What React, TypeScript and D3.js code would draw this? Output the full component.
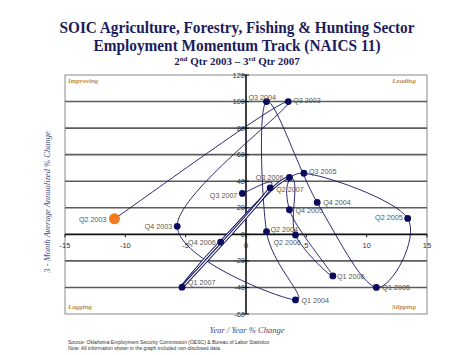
import React from "react";
import * as d3 from "d3";

const quarters = [
  "Q2 2003", "Q3 2003", "Q4 2003", "Q1 2004", "Q2 2004", "Q3 2004", "Q4 2004",
  "Q1 2005", "Q2 2005", "Q3 2005", "Q4 2005", "Q1 2006", "Q2 2006", "Q3 2006",
  "Q4 2006", "Q1 2007", "Q2 2007", "Q3 2007",
];
const yoyChange = [
  -10.9, 3.5, -5.7, 4.1, 1.7, 1.7, 5.9, 10.8, 13.4, 4.8, 3.6, 7.2, 4.1, 3.6,
  -2.1, -5.3, 2.0, -0.3,
];
const momentum = [
  11.7, 100, 6, -49.4, 2, 100, 24, -40, 12, 46, 18.5, -31.3, -0.5, 42.8, -5.8,
  -39.8, 35, 30.8,
];
const xTicks = [-15, -10, -5, 0, 5, 10, 15];
const yTicks = [-60, -40, -20, 0, 20, 40, 60, 80, 100, 120];

// label placement (layout only)
const labelPos: Record<string, { dx: number; dy: number; anchor: string }> = {
  "Q2 2003": { dx: -8, dy: 3, anchor: "end" },
  "Q3 2003": { dx: 5, dy: 1, anchor: "start" },
  "Q4 2003": { dx: -5, dy: 3, anchor: "end" },
  "Q1 2004": { dx: 6, dy: 3, anchor: "start" },
  "Q2 2004": { dx: 4, dy: 0, anchor: "start" },
  "Q3 2004": { dx: -18, dy: -2, anchor: "start" },
  "Q4 2004": { dx: 6, dy: 3, anchor: "start" },
  "Q1 2005": { dx: 6, dy: 3, anchor: "start" },
  "Q2 2005": { dx: -5, dy: 2, anchor: "end" },
  "Q3 2005": { dx: 5, dy: 1, anchor: "start" },
  "Q4 2005": { dx: 6, dy: 3, anchor: "start" },
  "Q1 2006": { dx: 4, dy: 3, anchor: "start" },
  "Q2 2006": { dx: -22, dy: 10, anchor: "start" },
  "Q3 2006": { dx: -6, dy: 2, anchor: "end" },
  "Q4 2006": { dx: -5, dy: 3, anchor: "end" },
  "Q1 2007": { dx: 6, dy: -2, anchor: "start" },
  "Q2 2007": { dx: 6, dy: 4, anchor: "start" },
  "Q3 2007": { dx: -5, dy: 5, anchor: "end" },
};

const W = 474;
const H = 355;
const NAVY = "#14145e";

export default function App() {
  const x = d3.scaleLinear().domain([-15, 15]).range([65, 427]);
  const y = d3.scaleLinear().domain([-60, 120]).range([314, 75]);

  const pts = quarters.map((q, i) => ({ q, px: x(yoyChange[i]), py: y(momentum[i]) }));

  // Catmull-Rom style smoothed segments (Excel-like smoothing)
  const segs: { d: string; dbl: boolean }[] = [];
  for (let i = 0; i < pts.length - 1; i++) {
    const p0 = pts[Math.max(0, i - 1)];
    const p1 = pts[i];
    const p2 = pts[i + 1];
    const p3 = pts[Math.min(pts.length - 1, i + 2)];
    const path = d3.path();
    path.moveTo(p1.px, p1.py);
    path.bezierCurveTo(
      p1.px + (p2.px - p0.px) / 6,
      p1.py + (p2.py - p0.py) / 6,
      p2.px - (p3.px - p1.px) / 6,
      p2.py - (p3.py - p1.py) / 6,
      p2.px,
      p2.py
    );
    segs.push({ d: path.toString(), dbl: i >= 13 && i <= 15 });
  }

  const x0 = x(0);
  const y0 = y(0);

  return (
    <svg
      width={W}
      height={H}
      style={{ position: "absolute", left: 0, top: 0, background: "#fff" }}
    >
      {/* Title */}
      <g fontFamily="'Liberation Serif', 'Times New Roman', serif" fontWeight="bold" fill="#1c1c5c" textAnchor="middle">
        <text x={237} y={33} fontSize={16.5} textLength={355} lengthAdjust="spacingAndGlyphs">
          SOIC Agriculture, Forestry, Fishing &amp; Hunting Sector
        </text>
        <text x={237} y={51} fontSize={16.5} textLength={287} lengthAdjust="spacingAndGlyphs">
          Employment Momentum Track (NAICS 11)
        </text>
        <text x={237} y={64.5} fontSize={11}>
          2<tspan fontSize={7} dy={-4}>nd</tspan>
          <tspan dy={4}> Qtr 2003 – 3</tspan>
          <tspan fontSize={7} dy={-4}>rd</tspan>
          <tspan dy={4}> Qtr 2007</tspan>
        </text>
      </g>

      {/* plot border */}
      <rect x={x(-15)} y={y(120)} width={x(15) - x(-15)} height={y(-60) - y(120)} fill="none" stroke="#8a8a8a" strokeWidth={1} />

      {/* gridlines */}
      {yTicks
        .filter((t) => t !== 0 && t !== 120 && t !== -60)
        .map((t) => (
          <line key={t} x1={x(-15)} x2={x(15)} y1={y(t)} y2={y(t)} stroke="#5c5c5c" strokeWidth={1.6} />
        ))}

      {/* x axis */}
      <line x1={x(-15)} x2={x(15)} y1={y0} y2={y0} stroke="#111" strokeWidth={1.6} />
      {xTicks.map((t) => (
        <g key={t}>
          <line x1={x(t)} x2={x(t)} y1={y0} y2={y0 + 3} stroke="#111" strokeWidth={1} />
          <text x={x(t)} y={y0 + 14} fontSize={7.5} fontFamily="'Liberation Sans', Arial, sans-serif" fill="#333" textAnchor="middle">
            {t}
          </text>
        </g>
      ))}

      {/* y axis */}
      <line x1={x0} x2={x0} y1={y(120)} y2={y(-60)} stroke="#111" strokeWidth={1.6} />
      {yTicks.map((t) => (
        <g key={t}>
          <line x1={x0 - 4} x2={x0 + 3} y1={y(t)} y2={y(t)} stroke="#111" strokeWidth={1} />
          <text x={x0 - 1} y={y(t) + 2.6} fontSize={7.5} fontFamily="'Liberation Sans', Arial, sans-serif" fill="#333" textAnchor="end">
            {t}
          </text>
        </g>
      ))}

      {/* quadrant labels */}
      <g fontFamily="'Liberation Serif', serif" fontStyle="italic" fontWeight="bold" fontSize={7} fill="#c08a4a">
        <text x={x(-15) + 3} y={y(120) + 8}>Improving</text>
        <text x={x(15) - 11} y={y(120) + 8} textAnchor="end">Leading</text>
        <text x={x(-15) + 3} y={y(-60) - 5}>Lagging</text>
        <text x={x(15) - 11} y={y(-60) - 5} textAnchor="end">Slipping</text>
      </g>

      {/* track */}
      {segs.map((s, i) =>
        s.dbl ? (
          <g key={i}>
            <path d={s.d} fill="none" stroke={NAVY} strokeWidth={3.2} />
            <path d={s.d} fill="none" stroke="#fff" strokeWidth={1.2} />
          </g>
        ) : (
          <path key={i} d={s.d} fill="none" stroke={NAVY} strokeWidth={0.9} />
        )
      )}

      {/* markers */}
      {pts.map((p, i) =>
        i === 0 ? (
          <circle key={p.q} cx={p.px} cy={p.py} r={5.5} fill="#f47a20" />
        ) : (
          <circle key={p.q} cx={p.px} cy={p.py} r={3.4} fill="#0a0a5e" />
        )
      )}

      {/* point labels */}
      <g fontFamily="'Liberation Sans', Arial, sans-serif" fontSize={7.2} fill="#555">
        {pts.map((p) => {
          const lp = labelPos[p.q];
          return (
            <text key={p.q} x={p.px + lp.dx} y={p.py + lp.dy} textAnchor={lp.anchor}>
              {p.q}
            </text>
          );
        })}
      </g>

      {/* axis titles */}
      <text
        transform={`translate(50, 202) rotate(-90)`}
        textAnchor="middle"
        fontFamily="'Liberation Serif', serif"
        fontStyle="italic"
        fontSize={8.5}
        fill="#4a4a80"
      >
        3 - Month Average Annualized % Change
      </text>
      <text x={247} y={333} textAnchor="middle" fontFamily="'Liberation Serif', serif" fontStyle="italic" fontSize={8.5} fill="#4a4a80">
        Year / Year % Change
      </text>

      {/* source */}
      <g fontFamily="'Liberation Sans', Arial, sans-serif" fontSize={5} fill="#333">
        <text x={68} y={344}>Source:  Oklahoma Employment Security Commission (OESC) &amp; Bureau of Labor Statistics</text>
        <text x={68} y={350}>Note: All information shown in the graph included non-disclosed data.</text>
      </g>
    </svg>
  );
}
